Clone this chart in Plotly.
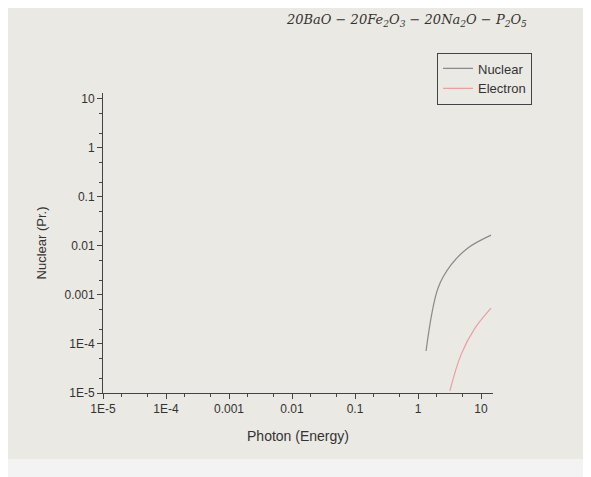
import plotly.graph_objects as go

nuc_x = [1.34, 2.08, 3.34, 6.2, 14.4]
nuc_y = [7.2e-5, 1.39e-3, 4.1e-3, 9.1e-3, 0.0166]
ele_x = [3.2, 4.8, 8.0, 14.4]
ele_y = [1.1e-5, 6e-5, 2.1e-4, 5.4e-4]
xt_vals = [1e-5, 1e-4, 1e-3, 1e-2, 0.1, 1, 10]
xt_text = ["1E-5", "1E-4", "0.001", "0.01", "0.1", "1", "10"]
yt_vals = [1e-5, 1e-4, 1e-3, 1e-2, 0.1, 1, 10]
yt_text = ["1E-5", "1E-4", "0.001", "0.01", "0.1", "1", "10"]

fig = go.Figure()
fig.add_trace(go.Scatter(x=nuc_x, y=nuc_y, mode="lines", name="Nuclear",
                         line=dict(color="#8a8a88", width=1.2, shape="spline")))
fig.add_trace(go.Scatter(x=ele_x, y=ele_y, mode="lines", name="Electron",
                         line=dict(color="#e8a0a0", width=1.2, shape="spline")))
fig.update_layout(
    width=591, height=477, margin=dict(l=95, r=106, t=85, b=92, autoexpand=False),
    paper_bgcolor="#ebe9e4", plot_bgcolor="#ebe9e4",
    font=dict(family="Liberation Sans, Arial", size=12, color="#333"),
    title=dict(text="<i>20BaO − 20Fe<sub>2</sub>O<sub>3</sub> − 20Na<sub>2</sub>O − P<sub>2</sub>O<sub>5</sub></i>",
               x=0.675, xanchor="center", y=0.985, yanchor="top", font=dict(size=13, family="DejaVu Serif")),
    legend=dict(x=1.1, xanchor="right", y=1.135, yanchor="top", bgcolor="rgba(0,0,0,0)",
                bordercolor="#444", borderwidth=1, font=dict(size=13), tracegroupgap=0,
                itemwidth=30),
    xaxis=dict(type="log", range=[-5, 1.19], tickvals=xt_vals, ticktext=xt_text, automargin=False,
               showgrid=False, showline=True, linecolor="#444", ticks="outside", ticklen=5,
               minor=dict(ticks="outside", ticklen=3, tickcolor="#444"),
               title=dict(text="Photon (Energy)", font=dict(size=14)), zeroline=False),
    yaxis=dict(type="log", range=[-5, 1.12], tickvals=yt_vals, ticktext=yt_text, automargin=False,
               showgrid=False, showline=True, linecolor="#444", ticks="outside", ticklen=5,
               minor=dict(ticks="outside", ticklen=3, tickcolor="#444"),
               title=dict(text="Nuclear (Pr.)", font=dict(size=13)), zeroline=False),
)
fig.add_shape(type="rect", xref="paper", yref="paper", x0=-0.3, x1=1.3, y0=-0.35, y1=-0.22,
              fillcolor="#f3f3f3", line=dict(width=0), layer="below")
fig.write_html("out.html")
